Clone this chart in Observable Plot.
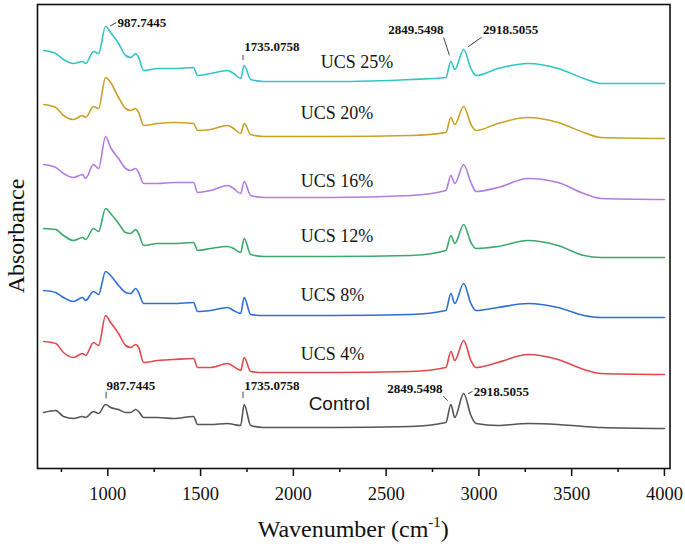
<!DOCTYPE html>
<html><head><meta charset="utf-8">
<script src="https://cdn.jsdelivr.net/npm/d3@7"></script>
<script src="https://cdn.jsdelivr.net/npm/@observablehq/plot@0.6"></script>
<style>html,body{margin:0;padding:0;background:#fff;} svg{display:block;}</style>
</head><body><div id="chart"></div>
<script>
// ---- data ----
const wavenumbers = [654, 719, 761, 815, 864, 880, 923, 950, 988, 1015, 1058, 1096, 1123, 1150, 1166, 1193, 1268, 1355, 1462, 1484, 1554, 1646, 1678, 1716, 1735, 1770, 1840, 2201, 2633, 2822, 2849, 2870, 2918, 2957, 2984, 3102, 3264, 3426, 3566, 3658, 4000];
const seriesNames = ["UCS 25%", "UCS 20%", "UCS 16%", "UCS 12%", "UCS 8%", "UCS 4%", "Control"];
const ucs25 = [4.18,4.15,4.09,4.05,4.07,4.05,4.17,4.15,4.42,4.36, 4.25,4.13,4.11,4.15,4.11,3.98,4.00,4.00,4.01,3.93, 3.95,3.98,3.95,3.90,4.03,3.89,3.87,3.87,3.89,3.91, 4.07,3.99,4.19,4.00,3.93,4.00,4.05,4.00,3.90,3.85,3.85];
const ucs20 = [3.64,3.61,3.53,3.49,3.53,3.51,3.62,3.60,3.91,3.86, 3.71,3.60,3.58,3.60,3.56,3.43,3.45,3.46,3.45,3.38, 3.39,3.43,3.40,3.35,3.45,3.34,3.32,3.32,3.33,3.36, 3.51,3.44,3.62,3.44,3.38,3.45,3.51,3.46,3.36,3.31,3.30];
const ucs16 = [3.04,3.01,2.95,2.91,2.94,2.90,3.04,3.00,3.32,3.21, 3.10,3.00,2.98,3.00,2.96,2.85,2.85,2.86,2.86,2.76, 2.78,2.83,2.80,2.75,2.87,2.73,2.71,2.71,2.73,2.78, 2.93,2.85,3.04,2.86,2.77,2.81,2.90,2.86,2.75,2.70,2.69];
const ucs12 = [2.40,2.39,2.33,2.28,2.31,2.29,2.40,2.37,2.60,2.55, 2.45,2.36,2.35,2.39,2.35,2.23,2.25,2.25,2.26,2.18, 2.20,2.22,2.20,2.16,2.30,2.14,2.12,2.12,2.13,2.18, 2.33,2.25,2.44,2.26,2.20,2.22,2.28,2.23,2.13,2.11,2.11];
const ucs8  = [1.78,1.76,1.71,1.67,1.71,1.68,1.77,1.74,1.97,1.93, 1.83,1.76,1.75,1.80,1.76,1.65,1.65,1.65,1.66,1.57, 1.58,1.61,1.58,1.55,1.71,1.54,1.53,1.53,1.54,1.58, 1.75,1.65,1.85,1.65,1.58,1.61,1.65,1.61,1.53,1.51,1.51];
const ucs4  = [1.27,1.25,1.16,1.11,1.15,1.13,1.26,1.23,1.53,1.46, 1.35,1.23,1.21,1.24,1.21,1.06,1.08,1.09,1.10,1.01, 1.01,1.05,1.02,0.98,1.11,0.97,0.96,0.96,0.97,1.01, 1.17,1.08,1.28,1.08,1.01,1.06,1.14,1.09,0.99,0.95,0.94];
const control = [0.56,0.58,0.52,0.50,0.52,0.51,0.57,0.55,0.64,0.61, 0.59,0.56,0.56,0.59,0.57,0.51,0.51,0.50,0.52,0.44, 0.44,0.45,0.44,0.43,0.64,0.43,0.41,0.41,0.42,0.46, 0.64,0.51,0.75,0.53,0.45,0.43,0.45,0.44,0.42,0.41,0.40];
const seriesValues = [ucs25, ucs20, ucs16, ucs12, ucs8, ucs4, control];
const majorTicks = [1000, 1500, 2000, 2500, 3000, 3500, 4000];
const minorTicks = [750, 1250, 1750, 2250, 2750, 3250, 3750];
const peakLabels = ["987.7445", "1735.0758", "2849.5498", "2918.5055"];
const peakWavenumbers = [988, 1735, 2849, 2918];
const labelWavenumber = 2201;

// ---- styles ----
const seriesColors = ["#33C4C8", "#C9A126", "#B27DDF", "#3DA86E", "#2E6FD4", "#E0484C", "#555555"];
const labelOffsets = [[-10,-19],[-30,-23.7],[-30,-16.7],[-30,-20],[-30,-20],[-30,-18.7],[-22,-24]];
const annotStyles = {
  0: [
    {anchor:"start", dx:12, dy:-3.3, leader:[5,0,11,-3.3]},
    {anchor:"start", dx:0, dy:-18.3, leader:[-0.7,-10,-0.7,-5]},
    {anchor:"end", dx:-7.3, dy:-31.4, leader:[-6.7,-23.4,-1,-5.7]},
    {anchor:"start", dx:19.4, dy:-19.7, leader:[5,-2.3,18.4,-11.7]}
  ],
  6: [
    {anchor:"start", dx:1, dy:-19, leader:[1,-12.3,1,-5.7]},
    {anchor:"start", dx:0, dy:-19, leader:[-0.7,-12.3,-0.7,-6]},
    {anchor:"end", dx:-8.3, dy:-15.7, leader:[-7.3,-8,-2.7,-3.3]},
    {anchor:"start", dx:10, dy:-2, leader:[5,0.6,9.4,-1.7]}
  ]
};

const rows = [];
seriesNames.forEach((name, i) => wavenumbers.forEach((w, j) => rows.push({series: name, w, a: seriesValues[i][j]})));

const li = wavenumbers.indexOf(labelWavenumber);
const labelMarks = seriesNames.map((name, i) => Plot.text([{w: labelWavenumber, a: seriesValues[i][li], t: name}], {
  x: "w", y: "a", text: "t", textAnchor: "start", dx: labelOffsets[i][0], dy: labelOffsets[i][1],
  fontSize: name === "Control" ? 19 : 18,
  fontFamily: name === "Control" ? "Liberation Sans" : "Liberation Serif",
  fill: "#161616"
}));

const annotMarks = [];
const leaderSegs = [];
for (const si of [0, 6]) {
  peakWavenumbers.forEach((pw, k) => {
    const j = wavenumbers.indexOf(pw);
    const st = annotStyles[si][k];
    const d = {w: pw, a: seriesValues[si][j], t: peakLabels[k]};
    annotMarks.push(Plot.text([d], {x: "w", y: "a", text: "t", textAnchor: st.anchor, dx: st.dx, dy: st.dy,
      fontSize: 13, fontWeight: "bold", fontFamily: "Liberation Serif", fill: "#111"}));
    leaderSegs.push({w: d.w, a: d.a, off: st.leader});
  });
}

const plot = Plot.plot({
  width: 685, height: 551,
  marginLeft: 37, marginRight: 15.5, marginTop: 4, marginBottom: 83,
  style: {background: "#fff", fontFamily: "Liberation Serif", color: "#111"},
  x: {domain: [621, 4030], label: null},
  y: {domain: [0, 4.64], axis: null},
  color: {domain: seriesNames, range: seriesColors},
  marks: [
    Plot.line(rows, {x: "w", y: "a", z: "series", stroke: "series", strokeWidth: 1.6, curve: "monotone-x"}),
    Plot.axisX(majorTicks, {tickSize: 8, tickPadding: 10, fontSize: 18.5, strokeWidth: 1.5, label: null, tickFormat: d3.format("d")}),
    Plot.axisX(minorTicks, {tickSize: 4, tickFormat: () => "", strokeWidth: 1.5, label: null}),
    Plot.frame({stroke: "#111", strokeWidth: 1.6}),
    ...labelMarks,
    ...annotMarks
  ]
});

document.getElementById("chart").appendChild(plot);

// leader lines and axis titles, positioned through the plot's own scales
const xs = plot.scale("x"), ys = plot.scale("y");
const sx = d3.scaleLinear(xs.domain, xs.range), sy = d3.scaleLinear(ys.domain, ys.range);
const svg = d3.select(plot);
const g = svg.append("g").attr("stroke", "#444").attr("stroke-width", 1);
for (const s of leaderSegs) {
  const px = sx(s.w), py = sy(s.a);
  g.append("line").attr("x1", px + s.off[0]).attr("y1", py + s.off[1]).attr("x2", px + s.off[2]).attr("y2", py + s.off[3]);
}
const cx = (xs.range[0] + xs.range[1]) / 2;
const xt = svg.append("text").attr("x", cx).attr("y", 537).attr("text-anchor", "middle")
  .attr("font-family", "Liberation Serif").attr("font-size", 24).attr("fill", "#111");
xt.append("tspan").text("Wavenumber (cm");
xt.append("tspan").attr("font-size", 15).attr("dy", -10).text("-1");
xt.append("tspan").attr("dy", 10).text(")");
const cy = (ys.range[0] + ys.range[1]) / 2;
svg.append("text").attr("transform", `translate(24,${cy}) rotate(-90)`).attr("text-anchor", "middle")
  .attr("font-family", "Liberation Serif").attr("font-size", 24).attr("fill", "#111").text("Absorbance");
</script>
</body></html>
